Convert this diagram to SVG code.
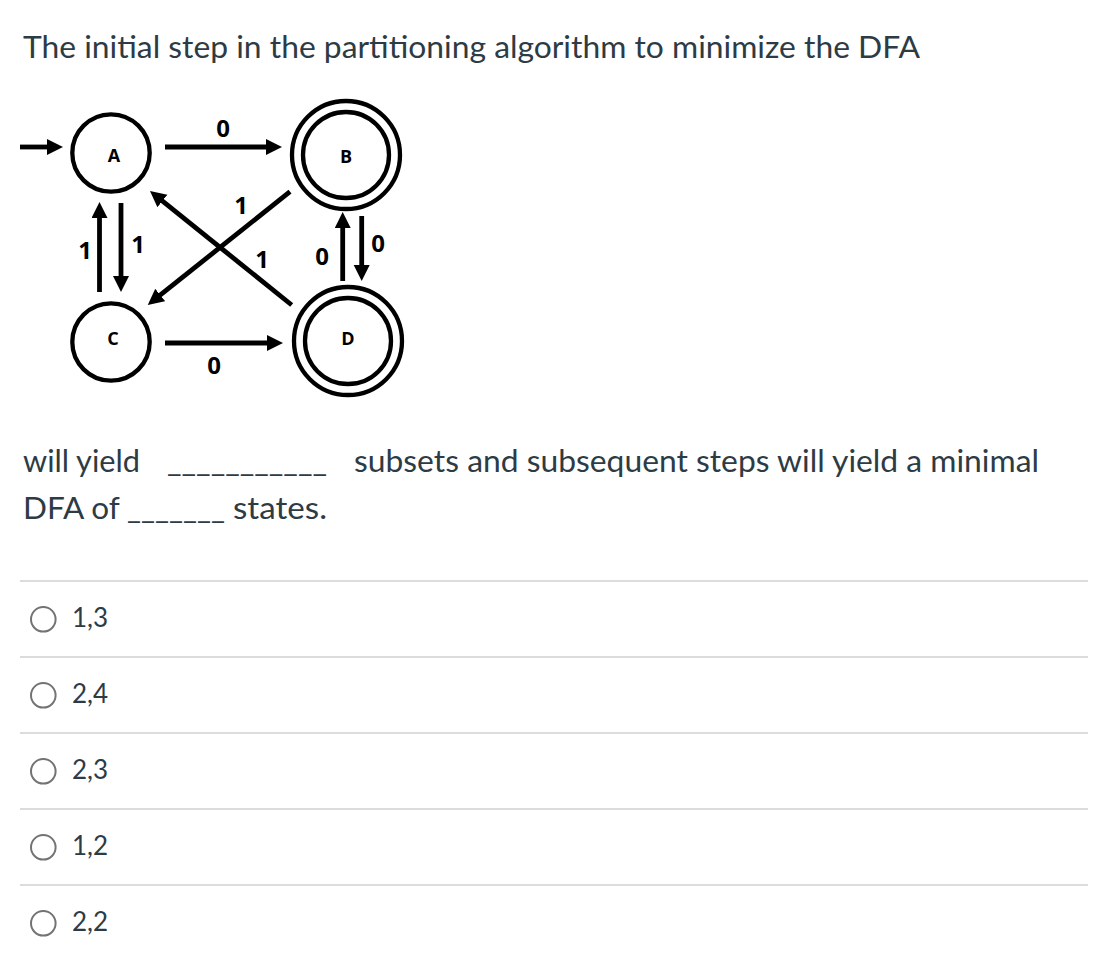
<svg xmlns="http://www.w3.org/2000/svg" width="1116" height="964" viewBox="0 0 1116 964">
<style>
.q{font-family:Lato,"Open Sans","Liberation Sans",sans-serif;fill:#2d3b45;font-size:31.5px}
.opt{font-family:Lato,"Open Sans","Liberation Sans",sans-serif;fill:#2d3b45;font-size:26px}
.st{fill:none;stroke:#000;stroke-width:4.3}
.nl{font-family:"Open Sans","DejaVu Sans",sans-serif;font-weight:bold;font-size:18px;fill:#000;text-anchor:middle}
.el{font-family:"Open Sans","DejaVu Sans",sans-serif;font-weight:bold;font-size:24px;fill:#000;text-anchor:middle}
.e{stroke:#000;stroke-width:4.8;fill:none;marker-end:url(#ah)}
.sep{stroke:#dcdcdc;stroke-width:2}
.rb{fill:#fff;stroke:#737373;stroke-width:2}
</style>
<defs>
<marker id="ah" markerUnits="userSpaceOnUse" markerWidth="18" markerHeight="18" refX="3" refY="8" orient="auto">
<path d="M0,0 L16,8 L0,16 z" fill="#000"/>
</marker>
</defs>
<rect width="1116" height="964" fill="#fff"/>
<text class="q" x="23" y="58" textLength="897" lengthAdjust="spacingAndGlyphs">The initial step in the partitioning algorithm to minimize the DFA</text>

<g id="edges">
<line class="e" x1="20" y1="147" x2="50" y2="147"/>
<line class="e" x1="165" y1="147" x2="269" y2="147"/>
<line class="e" x1="165" y1="343" x2="270" y2="343"/>
<line class="e" x1="121" y1="203" x2="121" y2="279"/>
<line class="e" x1="99.5" y1="292" x2="99.5" y2="215"/>
<line class="e" x1="290" y1="191.7" x2="157.9" y2="296.9"/>
<line class="e" x1="291.7" y1="305" x2="160.1" y2="199.1"/>
<line class="e" x1="342.7" y1="281" x2="342.7" y2="225"/>
<line class="e" x1="361.7" y1="216" x2="361.7" y2="268"/>
<text class="el" x="223" y="137">0</text>
<text class="el" x="214" y="374">0</text>
<text class="el" x="138" y="253">1</text>
<text class="el" x="85" y="259">1</text>
<text class="el" x="241" y="214">1</text>
<text class="el" x="262" y="268">1</text>
<text class="el" x="322" y="265">0</text>
<text class="el" x="378" y="252">0</text>
</g>

<g id="node-A">
<circle class="st" cx="111" cy="153" r="38.7"/>
<text class="nl" x="114" y="162">A</text>
</g>
<g id="node-B">
<circle class="st" cx="346" cy="155" r="54"/>
<circle class="st" cx="346" cy="155" r="43"/>
<text class="nl" x="346" y="162.5">B</text>
</g>
<g id="node-C">
<circle class="st" cx="111" cy="342" r="38.7"/>
<text class="nl" x="113" y="344.5">C</text>
</g>
<g id="node-D">
<circle class="st" cx="348" cy="341" r="54"/>
<circle class="st" cx="348" cy="341" r="43"/>
<text class="nl" x="348" y="344.5">D</text>
</g>

<text class="q" x="23" y="472" textLength="117" lengthAdjust="spacingAndGlyphs">will yield</text>
<text class="q" x="167" y="472" textLength="160" lengthAdjust="spacingAndGlyphs">___________</text>
<text class="q" x="354" y="472" textLength="685" lengthAdjust="spacingAndGlyphs">subsets and subsequent steps will yield a minimal</text>
<text class="q" x="23" y="519">DFA of</text>
<text class="q" x="127" y="519" textLength="98" lengthAdjust="spacingAndGlyphs">_______</text>
<text class="q" x="233" y="519" textLength="94" lengthAdjust="spacingAndGlyphs">states.</text>

<g id="options">
<line class="sep" x1="20" y1="581" x2="1088" y2="581"/>
<circle class="rb" cx="43.3" cy="619.3" r="12.3"/>
<text class="opt" x="72" y="627">1,3</text>
<line class="sep" x1="20" y1="657" x2="1088" y2="657"/>
<circle class="rb" cx="43.3" cy="695.3" r="12.3"/>
<text class="opt" x="72" y="703">2,4</text>
<line class="sep" x1="20" y1="733" x2="1088" y2="733"/>
<circle class="rb" cx="43.3" cy="771.3" r="12.3"/>
<text class="opt" x="72" y="779">2,3</text>
<line class="sep" x1="20" y1="809" x2="1088" y2="809"/>
<circle class="rb" cx="43.3" cy="847.3" r="12.3"/>
<text class="opt" x="72" y="855">1,2</text>
<line class="sep" x1="20" y1="885" x2="1088" y2="885"/>
<circle class="rb" cx="43.3" cy="923.3" r="12.3"/>
<text class="opt" x="72" y="931">2,2</text>
</g>
</svg>
